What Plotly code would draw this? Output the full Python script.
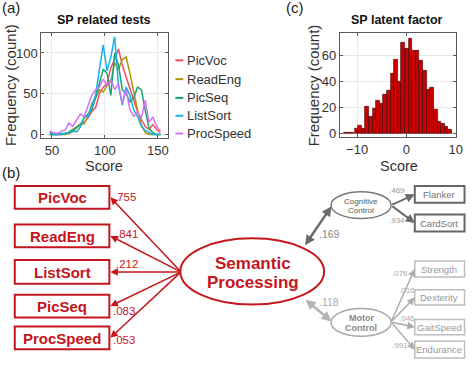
import plotly.graph_objects as go

W, H = 474, 365
FONT = "Liberation Sans, Arial, sans-serif"

# ---------------- data: panel (a) ----------------
score_bins = [48.0, 51.6, 55.2, 58.8, 62.4, 66.0, 69.6, 73.2, 76.8, 80.4, 84.0, 87.6, 91.2, 94.8, 98.4,
              102.0, 105.6, 109.2, 112.8, 116.4, 120.0, 123.6, 127.2, 130.8, 134.4, 138.0, 141.6, 145.2, 148.8, 152.4]
picvoc = [2, 0, 0, 0, 1, 2, 5, 9, 13, 15, 20, 28, 33, 50, 58, 62, 82, 92, 105, 85, 70, 58, 42, 28, 18, 10, 6, 12, 6, 2]
readeng = [0, 0, 0, 0, 0, 1, 3, 8, 12, 13, 22, 38, 45, 55, 52, 60, 65, 88, 80, 92, 95, 75, 50, 30, 12, 2, 0, 0, 0, 0]
picseq = [0, 0, 0, 1, 1, 3, 6, 10, 12, 20, 25, 30, 45, 62, 80, 75, 48, 100, 85, 55, 50, 40, 45, 58, 55, 30, 8, 2, 0, 0]
listsort = [3, 0, 0, 0, 1, 2, 4, 3, 9, 22, 22, 35, 48, 80, 110, 78, 95, 120, 60, 36, 58, 48, 30, 22, 10, 5, 2, 0, 0, 0]
procspeed = [4, 2, 1, 4, 5, 14, 10, 18, 25, 22, 35, 48, 55, 58, 68, 60, 68, 55, 62, 38, 55, 30, 22, 28, 20, 42, 15, 21, 10, 4]
series_names = ["PicVoc", "ReadEng", "PicSeq", "ListSort", "ProcSpeed"]
series_values = [picvoc, readeng, picseq, listsort, procspeed]
series_colors = ["#ee4f66", "#aa9a00", "#17a673", "#14b0ee", "#cf74f2"]

# ---------------- data: panel (c) ----------------
latent_centers = [-12.39, -11.66, -10.93, -10.19, -9.46, -8.73, -8.00, -7.26, -6.53, -5.80,
                  -5.06, -4.33, -3.60, -2.87, -2.13, -1.40, -0.67, 0.07, 0.80, 1.53,
                  2.27, 3.00, 3.73, 4.46, 5.20, 5.93, 6.66, 7.40, 8.13, 8.86]
latent_counts = [1, 1, 1, 4, 6, 4, 21, 13, 19, 25, 23, 30, 33, 46, 57, 40, 70, 65, 73, 64,
                 64, 56, 48, 34, 35, 18, 9, 8, 5, 3]
latent_width = 0.733

# ---------------- data: panel (b) ----------------
sp_tests = ["PicVoc", "ReadEng", "ListSort", "PicSeq", "ProcSpeed"]
sp_loadings = [".755", ".841", ".212", ".083", ".053"]
cog_tests = ["Flanker", "CardSort"]
cog_loadings = [".469", ".934"]
motor_tests = ["Strength", "Dexterity", "GaitSpeed", "Endurance"]
motor_loadings = [".076", ".016", ".046", ".991"]
cov_cog = ".169"
cov_motor = ".118"

RED = "#c4161c"


def px(x):
    return x / W


def py(y):
    return 1 - y / H


fig = go.Figure()

for name, vals, col in zip(series_names, series_values, series_colors):
    fig.add_trace(go.Scatter(x=score_bins, y=vals, mode="lines", name=name,
                             line=dict(color=col, width=1.5), showlegend=False,
                             xaxis="x", yaxis="y"))

fig.add_trace(go.Bar(x=latent_centers, y=latent_counts, width=latent_width,
                     marker=dict(color="#cc0000", line=dict(color="#3a0000", width=0.6)),
                     showlegend=False, xaxis="x2", yaxis="y2"))

axis_common = dict(showline=True, linecolor="#5a5a5a", linewidth=1, mirror="ticks",
                   ticks="inside", ticklen=3, tickcolor="#5a5a5a",
                   showgrid=True, gridcolor="#e8e8e8", gridwidth=1, zeroline=False,
                   tickfont=dict(family=FONT, size=13, color="#333333"), fixedrange=True)

fig.update_layout(
    width=W, height=H, autosize=False,
    margin=dict(l=0, r=0, t=0, b=0),
    paper_bgcolor="white", plot_bgcolor="white",
    font=dict(family=FONT),
    bargap=0,
    xaxis=dict(domain=[px(42), px(171)], range=[40, 160], tickvals=[50, 100, 150], anchor="y", **axis_common),
    yaxis=dict(domain=[py(140), py(33)], range=[-5, 125], tickvals=[0, 50, 100], anchor="x", **axis_common),
    xaxis2=dict(domain=[px(345), px(463)], range=[-13.5, 10.1], tickvals=[-10, 0, 10],
                ticktext=["\u221210", "0", "10"], anchor="y2", **axis_common),
    yaxis2=dict(domain=[py(139), py(33)], range=[-3, 77.5], tickvals=[0, 20, 40, 60], anchor="x2", **axis_common),
)

ann = []
shapes = []


def text(x, y, s, size, color="#222", bold=False, xanchor="center", angle=0):
    ann.append(dict(x=px(x), y=py(y), xref="paper", yref="paper", text=("<b>%s</b>" % s) if bold else s,
                    showarrow=False, xanchor=xanchor, yanchor="middle", textangle=angle,
                    font=dict(family=FONT, size=size, color=color)))


def arrow(x0, y0, x1, y1, color, width, both=False, head=2, size=1.0):
    ann.append(dict(x=px(x1), y=py(y1), xref="paper", yref="paper", ax=x0 - x1, ay=y0 - y1,
                    axref="pixel", ayref="pixel", text="", showarrow=True, arrowhead=head,
                    startarrowhead=head, arrowsize=size, startarrowsize=size,
                    arrowside="end+start" if both else "end",
                    arrowwidth=width, arrowcolor=color))


def rect(x0, y0, x1, y1, color, width):
    shapes.append(dict(type="rect", xref="paper", yref="paper", x0=px(x0), x1=px(x1), y0=py(y1), y1=py(y0),
                       line=dict(color=color, width=width), fillcolor="rgba(0,0,0,0)"))


def ellipse(x0, y0, x1, y1, color, width):
    shapes.append(dict(type="circle", xref="paper", yref="paper", x0=px(x0), x1=px(x1), y0=py(y1), y1=py(y0),
                       line=dict(color=color, width=width), fillcolor="rgba(0,0,0,0)"))


# panel labels / titles / axis titles
text(0, 8, "(a)", 15, "#222", xanchor="left")
text(299, 8, "(c)", 15, "#222")
text(0, 174, "(b)", 15, "#222", xanchor="left")
text(106, 20, "SP related tests", 12.5, "#111", bold=True)
text(403, 20, "SP latent factor", 12.5, "#111", bold=True)
text(106, 168, "Score", 14.5, "#333")
text(405, 168, "Score", 14.5, "#333")
text(10, 86, "Frequency (count)", 15, "#333", angle=-90)
text(318, 86, "Frequency (count)", 15, "#333", angle=-90)

# legend for (a)
legend_rows = [61, 80, 99, 117, 135]
for name, col, yy in zip(series_names, series_colors, legend_rows):
    shapes.append(dict(type="line", xref="paper", yref="paper", x0=px(178), x1=px(186), y0=py(yy), y1=py(yy),
                       line=dict(color=col, width=2)))
    text(188, yy, name, 13, "#333", xanchor="left")

# panel (b) - semantic processing block
sp_box_y = [(188, 211), (227, 250), (263, 287), (298, 321), (330, 353)]
sp_label_pos = [(127, 199), (129, 237), (129, 267), (126, 314), (126, 344)]
for name, (y0, y1), lab, (lx, ly) in zip(sp_tests, sp_box_y, sp_loadings, sp_label_pos):
    rect(15, y0, 111, y1, RED, 2)
    text(63, (y0 + y1) / 2 + 0.5, name, 15, RED, bold=True)
    arrow(183.5, 275, 112, (y0 + y1) / 2, RED, 1.5, head=2, size=1.0)
    text(lx, ly, lab, 11.5, RED)

ellipse(183, 241, 329, 308, RED, 2)
text(257, 266.5, "Semantic", 17, RED, bold=True)
text(257, 286, "Processing", 17, RED, bold=True)

# cognitive control
DG = "#6b6b6b"
ellipse(336, 194, 397, 221, "#7a7a7a", 1.5)
text(366.5, 203.5, "Cognitive", 8, "#555555")
text(366.5, 212.5, "Control", 8, "#555555")
cog_box_y = [(188, 205), (217, 234)]
cog_label_pos = [(402.5, 193), (402.5, 223)]
for name, (y0, y1), lab, (lx, ly) in zip(cog_tests, cog_box_y, cog_loadings, cog_label_pos):
    rect(421, y0, 471.5, y1, "#666", 2)
    text(446, (y0 + y1) / 2, name, 9.5, "#777")
    arrow(397, 207.5, 421, (y0 + y1) / 2, DG, 2, head=2, size=0.9)
    text(lx, ly, lab, 8, "#999")
arrow(309, 249, 336.5, 208.5, DG, 2.5, both=True, head=2, size=0.8)
text(334, 236.5, cov_cog, 10.5, "#888")

# motor control
LG = "#adadad"
ellipse(336, 312, 397, 340, "#a8a8a8", 1.5)
text(366.5, 321.5, "<b>Motor</b>", 9, "#888")
text(366.5, 331.5, "<b>Control</b>", 9, "#888")
motor_box_y = [(264, 280), (293, 308.5), (323, 338.5), (345, 362)]
motor_label_pos = [(405.5, 276.5), (413, 294), (413, 322.5), (405.5, 349.5)]
for name, (y0, y1), lab, (lx, ly) in zip(motor_tests, motor_box_y, motor_loadings, motor_label_pos):
    rect(421, y0, 471.5, y1, "#bdbdbd", 1.5)
    text(446, (y0 + y1) / 2, name, 9.5, "#999")
    arrow(397, 325.5, 421, (y0 + y1) / 2, LG, 1.5, head=2, size=1.0)
    text(lx, ly, lab, 8, "#aaa")
arrow(309, 302, 336.5, 325, "#b3b3b3", 2.5, both=True, head=2, size=0.8)
text(334, 305, cov_motor, 10.5, "#aaa")

fig.update_layout(annotations=ann, shapes=shapes)

fig.write_html("out.html", config={"displayModeBar": False},
               post_script="document.body.style.margin='0';document.body.style.overflow='hidden';")
